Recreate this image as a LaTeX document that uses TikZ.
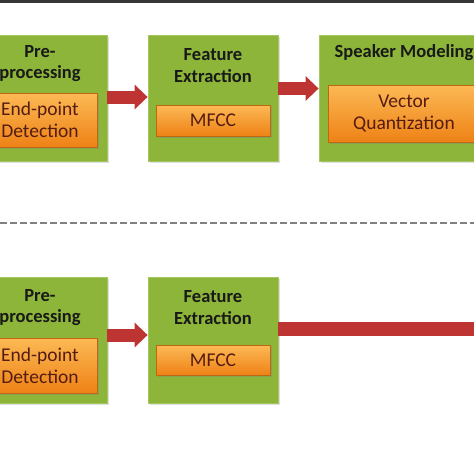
\documentclass[tikz,border=0pt]{standalone}
\usepackage{fontspec}
\setmainfont{Carlito}
\usetikzlibrary{arrows.meta,shadows}

\definecolor{boxgreen}{RGB}{140,181,58}
\definecolor{greenedge}{RGB}{165,198,95}
\definecolor{orangetop}{RGB}{252,185,85}
\definecolor{orangebot}{RGB}{238,130,22}
\definecolor{arrowred}{RGB}{190,52,50}
\definecolor{labelbrown}{RGB}{85,28,18}
\definecolor{topbar}{RGB}{55,55,55}

\begin{document}
\begin{tikzpicture}
[
	x=1pt,
	y=-1pt,
	stage/.style={draw=greenedge, fill=boxgreen, line width=0.8pt, inner sep=0pt,
		minimum width=#1, minimum height=126pt,
		drop shadow={shadow xshift=1.5pt, shadow yshift=-1.5pt, opacity=0.25}},
	task/.style={draw=orangebot!80!black, line width=0.4pt, top color=orangetop, bottom color=orangebot,
		inner sep=0pt, minimum width=#1, align=center, text=labelbrown,
		font=\fontsize{19.5}{22}\selectfont,
		drop shadow={shadow xshift=1.5pt, shadow yshift=-1.5pt, opacity=0.35}},
	title/.style={align=center, text=black!90, font=\fontsize{18.5}{21.5}\selectfont\bfseries},
	flow/.style={arrowred, line width=13pt, -{Triangle[length=13pt,width=24pt]}},
	bar/.style={arrowred, line width=14pt},
	divider/.style={gray, line width=1.5pt, dash pattern=on 7pt off 3pt}
]

	\useasboundingbox (0,0) rectangle (474,474);
	\clip (0,0) rectangle (474,474);

	\fill[topbar] (0,0) rectangle (474,2.5);

	% training row
	\node[stage=132pt] (pre1) at (41,98) {};
	\node[stage=130pt] (fe1) at (213,98) {};
	\node[stage=170pt] (sm1) at (404,98) {};

	\node[title] (pretitle1) at (40,63.5) {Pre-\\processing};
	\node[title] (fetitle1) at (213,65.5) {Feature\\Extraction};
	\node[title] (smtitle1) at (404,53) {Speaker Modeling};

	\node[task=114pt, minimum height=54pt] (epd1) at (40,120) {End-point\\Detection};
	\node[task=114pt, minimum height=31pt] (mfcc1) at (213,120.5) {MFCC};
	\node[task=152pt, minimum height=57pt] (vq1) at (404,113.5) {Vector\\Quantization};

	\draw[flow] ([yshift=1pt]pre1.east) -- ([yshift=1pt]fe1.west);
	\draw[flow] ([yshift=9.5pt]fe1.east) -- ([yshift=9.5pt]sm1.west);

	% separator
	\draw[divider] (0,223) -- (474,223);

	% testing row
	\node[stage=132pt] (pre2) at (41,340) {};
	\node[stage=130pt] (fe2) at (213,340) {};

	\node[title] (pretitle2) at (40,307.5) {Pre-\\processing};
	\node[title] (fetitle2) at (213,307.5) {Feature\\Extraction};

	\node[task=114pt, minimum height=55pt] (epd2) at (40,365.5) {End-point\\Detection};
	\node[task=114pt, minimum height=30pt] (mfcc2) at (213,360) {MFCC};

	\coordinate (out2) at (474,329);
	\draw[flow] ([yshift=5pt]pre2.east) -- ([yshift=5pt]fe2.west);
	\draw[bar] ([yshift=11pt]fe2.east) -- (out2);

\end{tikzpicture}
\end{document}
